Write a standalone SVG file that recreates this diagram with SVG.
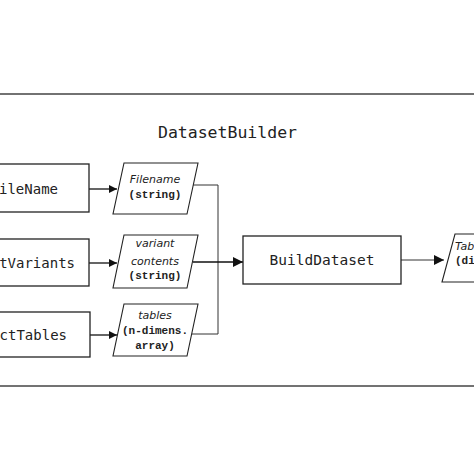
<svg xmlns="http://www.w3.org/2000/svg" width="474" height="474" viewBox="0 0 474 474">
<style>
.frame{fill:#fff;stroke:#444;stroke-width:1.5}
.box{fill:#fff;stroke:#222;stroke-width:1.3}
.data{fill:#fff;stroke:#222;stroke-width:1.1}
.mono{font-family:"DejaVu Sans Mono","Liberation Mono",monospace;fill:#222}
.it{font-family:"DejaVu Sans","Liberation Sans",sans-serif;font-style:italic;font-size:11px;fill:#222}
.cm{font-family:"Liberation Mono","Courier New",monospace;font-weight:bold;font-size:11px;fill:#222}
.ln{fill:none;stroke:#111;stroke-width:1.3}
.thin{fill:none;stroke:#333;stroke-width:1}
</style>
<defs>
<marker id="ah" viewBox="0 0 10 10" refX="10" refY="5" markerWidth="8" markerHeight="8" markerUnits="userSpaceOnUse" orient="auto">
<path d="M0,0 L10,5 L0,10 z" fill="#111"/>
</marker>
<marker id="ah2" viewBox="0 0 10 10" refX="10" refY="5" markerWidth="10" markerHeight="10" markerUnits="userSpaceOnUse" orient="auto">
<path d="M0,0 L10,5 L0,10 z" fill="#111"/>
</marker>
</defs>
<rect width="474" height="474" fill="#fff"/>
<g id="frame">
<rect class="frame" x="-10" y="94" width="494" height="292"/>
<text class="mono" x="227.5" y="138" font-size="16.5" text-anchor="middle">DatasetBuilder</text>
</g>
<g id="connectors">
<line class="ln" x1="89" y1="189" x2="117" y2="189" marker-end="url(#ah)"/>
<line class="ln" x1="89" y1="263" x2="117" y2="263" marker-end="url(#ah)"/>
<line class="ln" x1="90" y1="335" x2="117" y2="335" marker-end="url(#ah)"/>
<polyline class="thin" points="192,185 218,185 218,334 190,334"/>
<line class="ln" x1="193" y1="262" x2="243" y2="262" marker-end="url(#ah2)"/>
<line class="thin" x1="401" y1="260" x2="444" y2="260" marker-end="url(#ah2)"/>
</g>
<g id="getFileName">
<rect class="box" x="-20" y="164" width="109" height="48"/>
<text class="mono" x="58" y="194" font-size="14" text-anchor="end">ileName</text>
</g>
<g id="extractVariants">
<rect class="box" x="-20" y="239" width="109" height="47"/>
<text class="mono" x="75" y="268" font-size="14" text-anchor="end">tVariants</text>
</g>
<g id="extractTables">
<rect class="box" x="-20" y="312" width="110" height="45"/>
<text class="mono" x="67" y="340" font-size="14" text-anchor="end">ctTables</text>
</g>
<g id="filename">
<polygon class="data" points="124,163 198,163 187,214 113,214"/>
<text class="it" x="155" y="183" text-anchor="middle">Filename</text>
<text class="cm" x="155" y="198" text-anchor="middle">(string)</text>
</g>
<g id="variantContents">
<polygon class="data" points="124,235 198,235 187,288 113,288"/>
<text class="it" x="155" y="247" text-anchor="middle">variant</text>
<text class="it" x="155" y="265" text-anchor="middle">contents</text>
<text class="cm" x="155" y="279" text-anchor="middle">(string)</text>
</g>
<g id="tables">
<polygon class="data" points="124,304 198,304 187,356 113,356"/>
<text class="it" x="155" y="319" text-anchor="middle">tables</text>
<text class="cm" x="155" y="334" text-anchor="middle">(n-dimens.</text>
<text class="cm" x="155" y="349" text-anchor="middle">array)</text>
</g>
<g id="buildDataset">
<rect class="box" x="243" y="236" width="158" height="48"/>
<text class="mono" x="322" y="265" font-size="14.5" text-anchor="middle">BuildDataset</text>
</g>
<g id="output">
<polygon class="data" points="455,234 490,234 477,282 442,282"/>
<text class="it" x="455" y="250" font-size="10.5">Tab</text>
<text class="cm" x="455" y="264" font-size="10">(di</text>
</g>
</svg>
